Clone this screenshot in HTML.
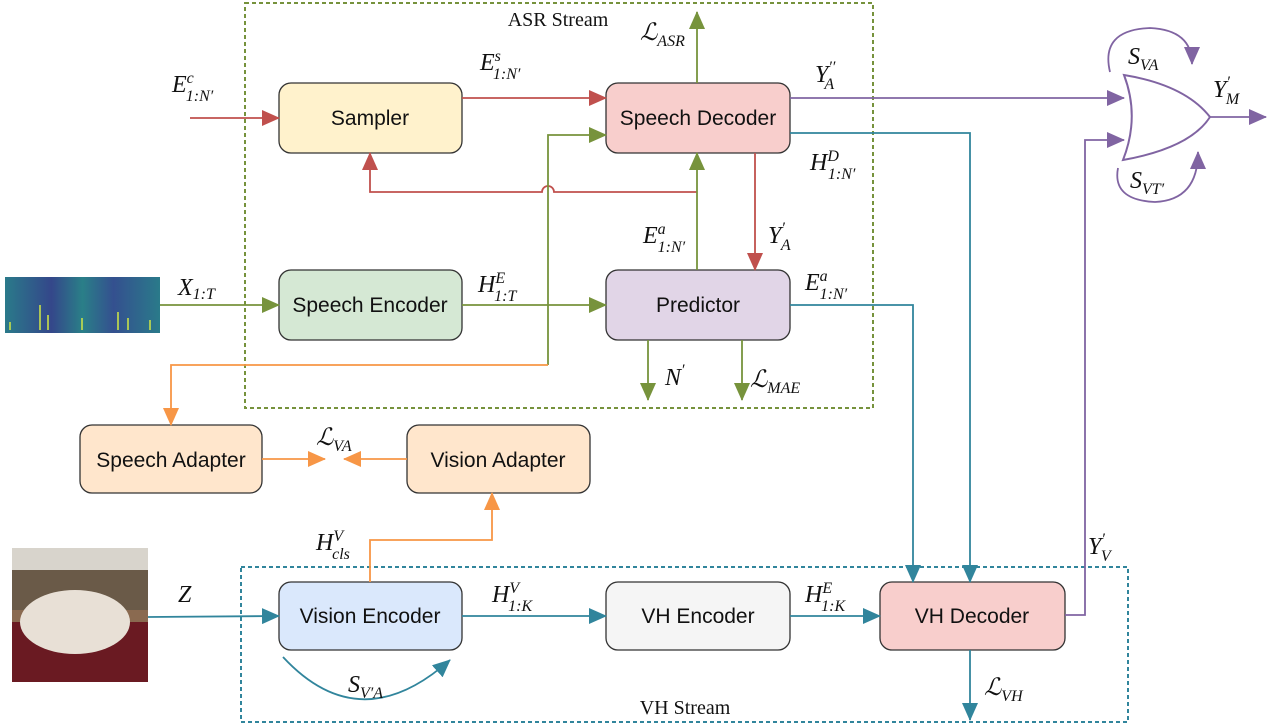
<!DOCTYPE html>
<html><head><meta charset="utf-8"><style>
html,body{margin:0;padding:0;background:#fff;}
svg{display:block;}
.b{font-family:"Liberation Sans",sans-serif;font-size:21px;fill:#111;text-anchor:middle;}
.m{font-family:"Liberation Serif",serif;font-style:italic;font-size:24px;fill:#111;}
.s{font-size:16px;}
.t{font-family:"Liberation Serif",serif;font-size:20px;fill:#111;}
</style></head><body>
<svg width="1273" height="727" viewBox="0 0 1273 727" xmlns="http://www.w3.org/2000/svg">
<defs>
<marker id="ar" markerWidth="18" markerHeight="16" refX="17" refY="8" orient="auto" markerUnits="userSpaceOnUse" viewBox="0 0 18 16"><path d="M0,0 L18,8 L0,16z" fill="#c0504d"/></marker>
<marker id="ag" markerWidth="18" markerHeight="16" refX="17" refY="8" orient="auto" markerUnits="userSpaceOnUse" viewBox="0 0 18 16"><path d="M0,0 L18,8 L0,16z" fill="#77933c"/></marker>
<marker id="ap" markerWidth="18" markerHeight="16" refX="17" refY="8" orient="auto" markerUnits="userSpaceOnUse" viewBox="0 0 18 16"><path d="M0,0 L18,8 L0,16z" fill="#8064a2"/></marker>
<marker id="at" markerWidth="18" markerHeight="16" refX="17" refY="8" orient="auto" markerUnits="userSpaceOnUse" viewBox="0 0 18 16"><path d="M0,0 L18,8 L0,16z" fill="#31859c"/></marker>
<marker id="ao" markerWidth="18" markerHeight="16" refX="17" refY="8" orient="auto" markerUnits="userSpaceOnUse" viewBox="0 0 18 16"><path d="M0,0 L18,8 L0,16z" fill="#f79646"/></marker>
<linearGradient id="spec" x1="0" y1="0" x2="1" y2="0">
<stop offset="0" stop-color="#2a7a8a"/><stop offset="0.3" stop-color="#34478a"/><stop offset="0.5" stop-color="#2a7f88"/><stop offset="0.7" stop-color="#34508f"/><stop offset="1" stop-color="#2a7a8a"/></linearGradient>
</defs>

<rect x="245" y="3" width="628" height="405" fill="none" stroke="#76923c" stroke-width="2" stroke-dasharray="4,3"/>
<text x="558" y="26" class="t" text-anchor="middle">ASR Stream</text>
<rect x="241" y="567" width="887" height="155" fill="none" stroke="#31859c" stroke-width="2" stroke-dasharray="4,3"/>
<text x="685" y="714" class="t" text-anchor="middle">VH Stream</text>

<rect x="5" y="277" width="155" height="56" fill="url(#spec)"/>
<g stroke="#c8e04a" stroke-width="2" opacity="0.8">
<line x1="10" y1="322" x2="10" y2="330"/><line x1="40" y1="305" x2="40" y2="330"/><line x1="48" y1="315" x2="48" y2="330"/><line x1="82" y1="318" x2="82" y2="330"/><line x1="118" y1="312" x2="118" y2="330"/><line x1="128" y1="318" x2="128" y2="330"/><line x1="150" y1="320" x2="150" y2="330"/></g>
<rect x="12" y="548" width="136" height="134" fill="#8a6a50"/>
<rect x="12" y="548" width="136" height="22" fill="#d8d4cc"/>
<rect x="12" y="570" width="136" height="40" fill="#6a5a48"/>
<rect x="12" y="622" width="136" height="60" fill="#6a1a22"/>
<ellipse cx="75" cy="622" rx="55" ry="32" fill="#e8e0d6"/>

<g stroke="#333" stroke-width="1.3">
<rect x="279" y="83" width="183" height="70" rx="12" fill="#fff2cc"/>
<rect x="606" y="83" width="184" height="70" rx="12" fill="#f8cecc"/>
<rect x="279" y="270" width="183" height="70" rx="12" fill="#d5e8d4"/>
<rect x="606" y="270" width="184" height="70" rx="12" fill="#e1d5e7"/>
<rect x="80" y="425" width="182" height="68" rx="12" fill="#ffe6cc"/>
<rect x="407" y="425" width="183" height="68" rx="12" fill="#ffe6cc"/>
<rect x="279" y="582" width="183" height="68" rx="12" fill="#dae8fc"/>
<rect x="606" y="582" width="184" height="68" rx="12" fill="#f5f5f5"/>
<rect x="880" y="582" width="185" height="68" rx="12" fill="#f8cecc"/>
</g>
<text x="370" y="125" class="b">Sampler</text>
<text x="698" y="125" class="b">Speech Decoder</text>
<text x="370" y="312" class="b">Speech Encoder</text>
<text x="698" y="312" class="b">Predictor</text>
<text x="171" y="467" class="b">Speech Adapter</text>
<text x="498" y="467" class="b">Vision Adapter</text>
<text x="370" y="623" class="b">Vision Encoder</text>
<text x="698" y="623" class="b">VH Encoder</text>
<text x="972" y="623" class="b">VH Decoder</text>

<g stroke="#c0504d" stroke-width="1.8" fill="none">
<line x1="190" y1="118" x2="279" y2="118" marker-end="url(#ar)"/>
<line x1="462" y1="98" x2="606" y2="98" marker-end="url(#ar)"/>
<line x1="755" y1="153" x2="755" y2="270" marker-end="url(#ar)"/>
<path d="M697,192 L554,192 A6,6 0 0 0 542,192 L370,192 L370,153" marker-end="url(#ar)"/>
</g>
<g stroke="#77933c" stroke-width="1.8" fill="none">
<line x1="697" y1="270" x2="697" y2="153" marker-end="url(#ag)"/>
<line x1="697" y1="83" x2="697" y2="12" marker-end="url(#ag)"/>
<line x1="160" y1="305" x2="279" y2="305" marker-end="url(#ag)"/>
<line x1="462" y1="305" x2="606" y2="305" marker-end="url(#ag)"/>
<path d="M548,365 L548,135 L606,135" marker-end="url(#ag)"/>
<line x1="648" y1="340" x2="648" y2="400" marker-end="url(#ag)"/>
<line x1="742" y1="340" x2="742" y2="400" marker-end="url(#ag)"/>
</g>
<g stroke="#f79646" stroke-width="1.8" fill="none">
<path d="M548,365 L171,365 L171,425" marker-end="url(#ao)"/>
<line x1="262" y1="459" x2="325" y2="459" marker-end="url(#ao)"/>
<line x1="407" y1="459" x2="344" y2="459" marker-end="url(#ao)"/>
<path d="M370,582 L370,540 L492,540 L492,493" marker-end="url(#ao)"/>
</g>
<g stroke="#31859c" stroke-width="1.8" fill="none">
<path d="M790,133 L970,133 L970,582" marker-end="url(#at)"/>
<path d="M790,305 L913,305 L913,582" marker-end="url(#at)"/>
<line x1="148" y1="617" x2="279" y2="616" marker-end="url(#at)"/>
<line x1="462" y1="616" x2="606" y2="616" marker-end="url(#at)"/>
<line x1="790" y1="616" x2="880" y2="616" marker-end="url(#at)"/>
<line x1="970" y1="650" x2="970" y2="720" marker-end="url(#at)"/>
<path d="M283,657 Q360,740 450,660" marker-end="url(#at)"/>
</g>
<g stroke="#8064a2" stroke-width="1.8" fill="none">
<line x1="790" y1="98" x2="1124" y2="98" marker-end="url(#ap)"/>
<path d="M1065,615 L1085,615 L1085,140 L1124,140" marker-end="url(#ap)"/>
<path d="M1124,75 Q1140,117 1123,160 Q1190,148 1210,117 Q1185,85 1124,75z" stroke-width="2"/>
<line x1="1210" y1="117" x2="1266" y2="117" marker-end="url(#ap)"/>
<path d="M1110,72 Q1100,30 1150,28 Q1192,30 1192,64" marker-end="url(#ap)"/>
<path d="M1118,168 Q1112,200 1155,202 Q1198,200 1198,152" marker-end="url(#ap)"/>
</g>

<text x="172" y="92" class="m">E<tspan class="s" dy="-9">c</tspan><tspan class="s" dx="-8" dy="18">1:N′</tspan></text>
<text x="480" y="70" class="m">E<tspan class="s" dy="-9">s</tspan><tspan class="s" dx="-8" dy="18">1:N′</tspan></text>
<text x="640" y="40" class="m">ℒ<tspan class="s" dy="6">ASR</tspan></text>
<text x="815" y="82" class="m">Y<tspan class="s" dy="-10">′′</tspan><tspan class="s" dx="-11" dy="17">A</tspan></text>
<text x="810" y="170" class="m">H<tspan class="s" dy="-9">D</tspan><tspan class="s" dx="-11" dy="18">1:N′</tspan></text>
<text x="643" y="243" class="m">E<tspan class="s" dy="-9">a</tspan><tspan class="s" dx="-8" dy="18">1:N′</tspan></text>
<text x="768" y="243" class="m">Y<tspan class="s" dy="-10">′</tspan><tspan class="s" dx="-4" dy="17">A</tspan></text>
<text x="805" y="290" class="m">E<tspan class="s" dy="-9">a</tspan><tspan class="s" dx="-8" dy="18">1:N′</tspan></text>
<text x="178" y="295" class="m">X<tspan class="s" dy="4">1:T</tspan></text>
<text x="478" y="292" class="m">H<tspan class="s" dy="-9">E</tspan><tspan class="s" dx="-11" dy="18">1:T</tspan></text>
<text x="665" y="385" class="m">N<tspan class="s" dy="-10">′</tspan></text>
<text x="750" y="387" class="m">ℒ<tspan class="s" dy="6">MAE</tspan></text>
<text x="316" y="445" class="m">ℒ<tspan class="s" dy="6">VA</tspan></text>
<text x="316" y="550" class="m">H<tspan class="s" dy="-9">V</tspan><tspan class="s" dx="-11" dy="18">cls</tspan></text>
<text x="178" y="602" class="m">Z</text>
<text x="492" y="602" class="m">H<tspan class="s" dy="-9">V</tspan><tspan class="s" dx="-11" dy="18">1:K</tspan></text>
<text x="805" y="602" class="m">H<tspan class="s" dy="-9">E</tspan><tspan class="s" dx="-11" dy="18">1:K</tspan></text>
<text x="348" y="692" class="m">S<tspan class="s" dy="6">V′A</tspan></text>
<text x="984" y="695" class="m">ℒ<tspan class="s" dy="6">VH</tspan></text>
<text x="1088" y="554" class="m">Y<tspan class="s" dy="-10">′</tspan><tspan class="s" dx="-4" dy="17">V</tspan></text>
<text x="1128" y="64" class="m">S<tspan class="s" dy="6">VA</tspan></text>
<text x="1130" y="188" class="m">S<tspan class="s" dy="6">VT′</tspan></text>
<text x="1213" y="97" class="m">Y<tspan class="s" dy="-10">′</tspan><tspan class="s" dx="-4" dy="17">M</tspan></text>
</svg>
</body></html>
